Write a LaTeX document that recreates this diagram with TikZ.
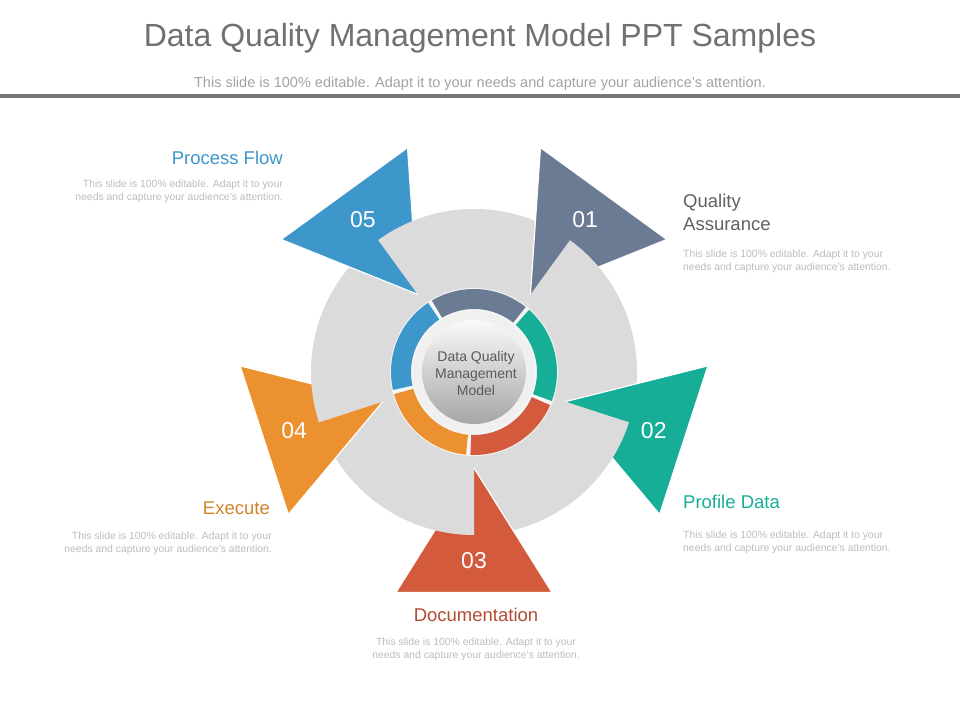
\documentclass[tikz,border=0pt]{standalone}
\usepackage{fontspec}
\setmainfont{Liberation Sans}
\usetikzlibrary{positioning}
\definecolor{qaslate}{HTML}{6B7B93}
\definecolor{pdteal}{HTML}{17AE98}
\definecolor{docred}{HTML}{D35A3C}
\definecolor{exorange}{HTML}{EC9130}
\definecolor{pfblue}{HTML}{3D97CA}
\definecolor{piecegray}{HTML}{DBDBDB}
\definecolor{titlegray}{HTML}{707070}
\definecolor{subgray}{HTML}{A3A3A3}
\definecolor{bodygray}{HTML}{BDBDBD}
\definecolor{rulegray}{HTML}{787878}
\begin{document}
\begin{tikzpicture}[x=1pt,y=1pt,line join=miter,
    arrowtri/.style={fill=#1,draw=white,line width=1.2pt},
    piece/.style={fill=piecegray},
    ringseg/.style={fill=#1},
    numlbl/.style={text=white,font=\fontsize{23}{23}\selectfont},
    headlbl/.style={text=#1,inner sep=0pt,font=\fontsize{18.5}{23}\selectfont},
    bodylbl/.style={text=bodygray,inner sep=0pt,align=#1,font=\fontsize{10.4}{13}\selectfont},
  ]
    \useasboundingbox (0,0) rectangle (960,720);
    \fill [white] (0,0) rectangle (960,720);
    %% title
    \node (title) at (480,673) [anchor=base,text=titlegray,font=\fontsize{32}{38}\selectfont] {Data Quality Management Model PPT Samples};
    \node (subtitle) at (480,632) [anchor=base,text=subgray,font=\fontsize{14.5}{17}\selectfont] {This slide is 100\% editable. Adapt it to your needs and capture your audience’s attention.};
    \draw [rulegray,line width=4pt] (0,624) -- (960,624);
    %% wheel
    \begin{scope}[shift={(474,348)}]
    \coordinate (hub) at (0,0);
    \fill [arrowtri=qaslate] (54:96pt) -- (73.5:234pt) -- (34.5:234pt) -- cycle;
    \fill [piece] (hub) -- (54:163pt) arc[start angle=54,end angle=-18,radius=163pt] -- cycle;
    \fill [arrowtri=pdteal] (-18:96pt) -- (1.5:234pt) -- (-37.5:234pt) -- cycle;
    \fill [piece] (hub) -- (-18:163pt) arc[start angle=-18,end angle=-90,radius=163pt] -- cycle;
    \fill [arrowtri=docred] (-90:96pt) -- (-70.5:234pt) -- (-109.5:234pt) -- cycle;
    \fill [piece] (hub) -- (-90:163pt) arc[start angle=-90,end angle=-162,radius=163pt] -- cycle;
    \fill [arrowtri=exorange] (-162:96pt) -- (-142.5:234pt) -- (-181.5:234pt) -- cycle;
    \fill [piece] (hub) -- (-162:163pt) arc[start angle=-162,end angle=-234,radius=163pt] -- cycle;
    \fill [arrowtri=pfblue] (126:96pt) -- (145.5:234pt) -- (106.5:234pt) -- cycle;
    \fill [piece] (hub) -- (126:163pt) arc[start angle=126,end angle=54,radius=163pt] -- cycle;
    % left half of 01 lies over the last piece
    \begin{scope}
      \clip (hub) -- (54:320pt) -- (144:320pt) -- cycle;
      \fill [arrowtri=qaslate] (54:96pt) -- (73.5:234pt) -- (34.5:234pt) -- cycle;
    \end{scope}
    %% ring
    \fill [white!93!gray] (hub) circle[radius=84pt];
    \fill [ringseg=qaslate] (51.5:83pt) arc[start angle=51.5,end angle=120.5,radius=83pt] -- (120.5:63pt) arc[start angle=120.5,end angle=51.5,radius=63pt] -- cycle;
    \fill [ringseg=pdteal] (-20.5:83pt) arc[start angle=-20.5,end angle=48.5,radius=83pt] -- (48.5:63pt) arc[start angle=48.5,end angle=-20.5,radius=63pt] -- cycle;
    \fill [ringseg=docred] (-92.5:83pt) arc[start angle=-92.5,end angle=-23.5,radius=83pt] -- (-23.5:63pt) arc[start angle=-23.5,end angle=-92.5,radius=63pt] -- cycle;
    \fill [ringseg=exorange] (-164.5:83pt) arc[start angle=-164.5,end angle=-95.5,radius=83pt] -- (-95.5:63pt) arc[start angle=-95.5,end angle=-164.5,radius=63pt] -- cycle;
    \fill [ringseg=pfblue] (123.5:83pt) arc[start angle=123.5,end angle=192.5,radius=83pt] -- (192.5:63pt) arc[start angle=192.5,end angle=123.5,radius=63pt] -- cycle;
    \fill [white!88!gray] (hub) circle[radius=61pt];
    \shade [top color=white!96!gray,bottom color=gray!70] (hub) circle[radius=52pt];
    \node (core) at (2,-1) [align=center,text=black!65,font=\fontsize{14}{17}\selectfont] {Data Quality\\Management\\Model};
    %% numbers
    \node (n01) at (54:189pt) [numlbl] {01};
    \node (n02) at (-18:189pt) [numlbl] {02};
    \node (n03) at (-90:189pt) [numlbl] {03};
    \node (n04) at (-162:189pt) [numlbl] {04};
    \node (n05) at (126:189pt) [numlbl] {05};
    \end{scope}
    %% labels
    \node (flow) at (283,555) [anchor=base east,headlbl=pfblue] {Process Flow};
    \node (flowtxt) at (283,540) [anchor=north east,bodylbl=right] {This slide is 100\% editable. Adapt it to your\\needs and capture your audience’s attention.};
    \node (assur) at (683,526) [anchor=north west,align=left,headlbl=black!62] {Quality\\Assurance};
    \node (assurtxt) at (683,470) [anchor=north west,bodylbl=left] {This slide is 100\% editable. Adapt it to your\\needs and capture your audience’s attention.};
    \node (profile) at (683,211) [anchor=base west,headlbl=pdteal] {Profile Data};
    \node (profiletxt) at (683,189) [anchor=north west,bodylbl=left] {This slide is 100\% editable. Adapt it to your\\needs and capture your audience’s attention.};
    \node (docu) at (476,99) [anchor=base,headlbl=docred!85!black] {Documentation};
    \node (docutxt) at (476,82) [anchor=north,bodylbl=center] {This slide is 100\% editable. Adapt it to your\\needs and capture your audience’s attention.};
    \node (exec) at (270,205) [anchor=base east,headlbl=exorange!90!black] {Execute};
    \node (exectxt) at (272,188) [anchor=north east,bodylbl=right] {This slide is 100\% editable. Adapt it to your\\needs and capture your audience’s attention.};
    %
\end{tikzpicture}
\end{document}
